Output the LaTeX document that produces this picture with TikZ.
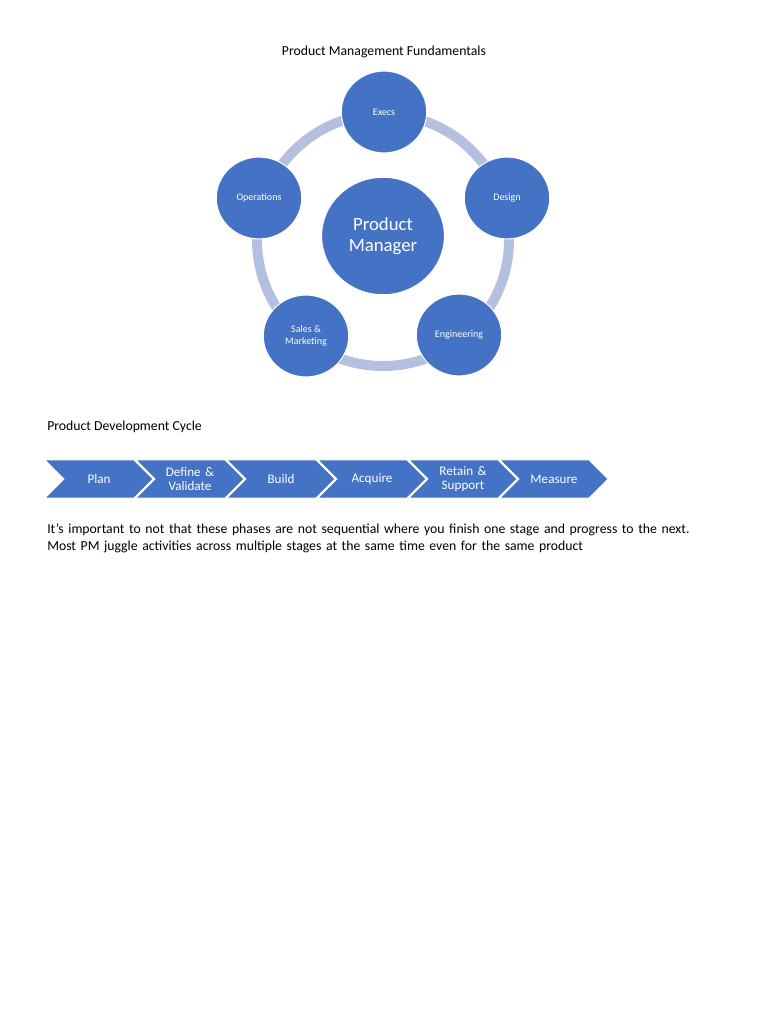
\documentclass[tikz,border=0pt]{standalone}
\usepackage{fontspec}
\setmainfont{Carlito}
\usetikzlibrary{shapes.geometric, shapes.symbols, positioning}
\definecolor{pmblue}{HTML}{4472C4}
\definecolor{ringblue}{HTML}{B4C0E0}
\tikzset{
    role/.style={ellipse, draw=white, thick, fill=pmblue, text=white, align=center, minimum width=2.4cm, minimum height=2.3cm, font=\fontsize{8}{9.5}\selectfont},
    hub/.style={ellipse, draw=white, thick, fill=pmblue, text=white, align=center, minimum width=3.45cm, minimum height=3.3cm, font=\fontsize{15}{17}\selectfont},
    phase/.style={signal, signal to=east, signal from=west, signal pointer angle=90, draw=white, thick, fill=pmblue, text=white, align=center, text width=1.9cm, minimum height=1.07cm, inner sep=1pt, font=\fontsize{10.5}{11.5}\selectfont},
    note/.style={anchor=west, inner sep=0pt, font=\fontsize{11}{13.5}\selectfont}
}
\begin{document}
\begin{tikzpicture}[x=0.02811cm, y=-0.02811cm]
    \useasboundingbox (0,0) rectangle (768,1024);
    \fill[white] (0,0) rectangle (768,1024);

    % Title
    \node[note, anchor=center] (Title) at (384,52) {Product Management Fundamentals};

    % Ring
    \draw[ringblue, line width=0.28cm] (383,240) circle (126);

    % Nodes
    \node[hub] (PM) at (383,236) {Product\\Manager};
    \node[role] (Execs) at (384,112) {Execs};
    \node[role] (Design) at (507,198) {Design};
    \node[role] (Eng) at (459,335) {Engineering};
    \node[role] (Sales) at (306,336) {Sales \&\\Marketing};
    \node[role] (Ops) at (259,198) {Operations};

    % Cycle
    \node[note] (CycleTitle) at (47,427) {Product Development Cycle};
    \node[phase] (Plan) at (99,479) {Plan};
    \node[phase] (Define) at (190,479) {Define \&\\Validate};
    \node[phase] (Build) at (281,479) {Build};
    \node[phase] (Acquire) at (372,479) {Acquire};
    \node[phase] (Retain) at (463,479) {Retain \&\\Support};
    \node[phase] (Measure) at (554,479) {Measure};

    % Note
    \node[note, text width=19cm, align=left, anchor=north west] (Note) at (47,524) {It’s important to not that these phases are not sequential where you finish one stage and progress to the next. Most PM juggle activities across multiple stages at the same time even for the same product};
\end{tikzpicture}
\end{document}
